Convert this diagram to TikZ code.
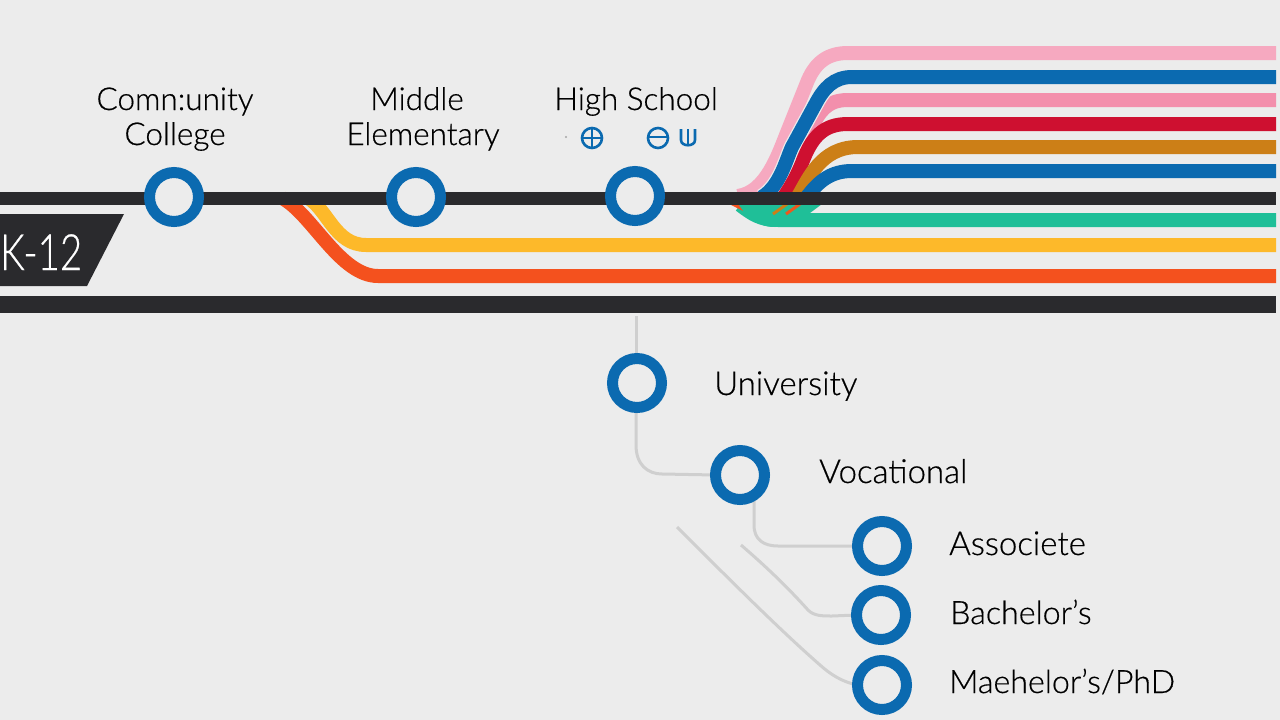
\documentclass[tikz,border=0pt]{standalone}
\usepackage{fontspec}
\setmainfont[FakeBold=0.5]{Lato Light}
\usetikzlibrary{backgrounds}
\definecolor{bgc}{HTML}{ECECEC}
\definecolor{ink}{HTML}{2A2A2D}
\definecolor{ringc}{HTML}{0B6AB0}
\definecolor{greyl}{HTML}{CFCFCF}
\definecolor{pinka}{HTML}{F6A9C0}
\definecolor{pinkb}{HTML}{F38FAC}
\definecolor{redl}{HTML}{CE1030}
\definecolor{ochre}{HTML}{CC7F17}
\definecolor{greenl}{HTML}{1FBF98}
\definecolor{yellowl}{HTML}{FDB92A}
\definecolor{orangel}{HTML}{F4511E}
\tikzset{
  stationring/.style={circle,draw=ringc,line width=11pt,fill=bgc,minimum size=49pt,inner sep=0pt,outer sep=0pt},
  lbl/.style={text=black,font=\fontsize{31.5}{36}\selectfont,inner sep=0pt,anchor=base},
  lblleft/.style={text=black,font=\fontsize{33}{38}\selectfont,inner sep=0pt,anchor=base west},
  route/.style={line width=14pt,line cap=butt},
  trunk/.style={line width=13pt,draw=ink},
  thin/.style={line width=3pt,draw=greyl},
  glyph/.style={draw=ringc,line width=2.6pt}
}
\begin{document}
\begin{tikzpicture}[x=1pt,y=-1pt]
\useasboundingbox (0,0) rectangle (1280,720);
% stations
\node[stationring] (s1) at (174,197) {};
\node[stationring] (s2) at (416,197) {};
\node[stationring] (s3) at (635,196) {};
\node[stationring] (u) at (637,383) {};
\node[stationring] (v) at (740,475) {};
\node[stationring] (a) at (882,546) {};
\node[stationring] (b) at (881,615) {};
\node[stationring] (m) at (882,685) {};
% free ends
\coordinate (tl) at (0,198); \coordinate (tr) at (1276,198);
\coordinate (bl) at (0,304); \coordinate (br) at (1276,304);
\coordinate (e1) at (1276,53); \coordinate (e2) at (1276,77); \coordinate (e3) at (1276,100);
\coordinate (e4) at (1276,124); \coordinate (e5) at (1276,147); \coordinate (e6) at (1276,171);
\coordinate (e7) at (1276,220); \coordinate (e8) at (1276,245); \coordinate (e9) at (1276,276);
\begin{pgfonlayer}{background}
\fill[bgc] (0,0) rectangle (1280,720);
% grey branches
\coordinate (g0) at (636,316);
\coordinate (g1) at (677,527);
\coordinate (g2) at (741,545);
\draw[thin] (g0) -- (g0 |- u.north);
\draw[thin] (g0 |- u.south) -- (636,445) .. controls (636,465) and (648,474) .. (662,474) -- (v.west);
\draw[thin] (754,500) -- (754,525) .. controls (754,540) and (764,546) .. (778,546) -- (a.west);
\draw[thin] (g2) .. controls (770,570) and (790,590) .. (808,610) .. controls (814,616) and (822,616) .. (832,616) -- (b.west);
\draw[thin] (g1) .. controls (730,580) and (780,630) .. (820,665) .. controls (830,674) and (842,682) .. (m.west);
% upper fan
\draw[route,draw=pinka] (738,196) .. controls (766,192) and (778,155) .. (788,130) -- (808,80) .. controls (816,62) and (828,53) .. (848,53) -- (e1);
\draw[route,draw=pinkb] (806,140) .. controls (818,112) and (826,100) .. (848,100) -- (e3);
\draw[line width=16.5pt,draw=bgc] (762,197) .. controls (780,186) and (786,160) .. (792,147) -- (816,103) .. controls (824,88) and (834,77) .. (852,77);
\draw[route,draw=ringc] (762,197) .. controls (780,186) and (786,160) .. (792,147) -- (816,103) .. controls (824,88) and (834,77) .. (852,77) -- (e2);
\draw[route,draw=redl] (783,198) .. controls (792,185) and (797,175) .. (802,163) .. controls (812,136) and (824,124) .. (848,124) -- (e4);
\draw[route,draw=ochre] (797,198) .. controls (808,180) and (820,147) .. (858,147) -- (e5);
\draw[route,draw=ringc] (806,198) .. controls (818,182) and (830,171) .. (852,171) -- (e6);
% lower fan
\fill[greenl] (733,204) -- (822,204) -- (810,213) -- (790,213) -- (775,227) .. controls (755,227) and (748,215) .. (733,204) -- cycle;
\draw[route,draw=greenl] (740,205) .. controls (752,214) and (760,220) .. (778,220) -- (e7);
\fill[orangel] (729,204) -- (738,204) -- (743,211) -- cycle;
\draw[line width=3pt,draw=ochre] (787,204) -- (773,214);
\draw[line width=3pt,draw=orangel!85!ochre] (800,204) -- (786,214);
\draw[route,draw=yellowl] (308,198) .. controls (328,210) and (335,245) .. (366,245) -- (e8);
\draw[route,draw=orangel] (282,198) .. controls (312,214) and (340,276) .. (378,276) -- (e9);
% trunks
\draw[trunk] (tl) -- (tr);
\draw[trunk,line width=17pt] (bl) -- (br);
\end{pgfonlayer}
% K-12 tag
\fill[ink] (0,214) -- (124,214) -- (87,286) -- (0,286) -- cycle;
\node[anchor=base west,inner sep=0pt,text=white,font=\fontsize{50}{52}\selectfont] (k) at (0,270) {\scalebox{0.77}[1]{K-12}};
% labels
\node[lbl] (l1) at (175,110) {Comn:unity};
\node[lbl] (l2) at (175,145) {College};
\node[lbl] (l3) at (417,110) {Middle};
\node[lbl] (l4) at (423,145) {Elementary};
\node[lbl] (l5) at (636,110) {High School};
\node[lblleft] (l6) at (714,395) {University};
\node[lblleft] (l7) at (819,483) {Vocational};
\node[lblleft] (l8) at (949,555) {Associete};
\node[lblleft,font=\fontsize{32.2}{38}\selectfont] (l9) at (950,624) {Bachelor's};
\node[lblleft,font=\fontsize{32.2}{38}\selectfont] (l10) at (949,693) {Maehelor's/PhD};
% glyph marks
\fill[gray!70] (566,137) circle (1.2pt);
\draw[glyph] (592,138) circle (10pt);
\draw[glyph] (592,128) -- (592,148) (582,138) -- (602,138);
\draw[glyph] (658,138) circle (10pt);
\draw[glyph] (648,137) -- (668,137);
\draw[glyph] (681,129) -- (681,140) .. controls (681,147) and (695,147) .. (695,140) -- (695,129);
\draw[glyph] (688,129) -- (688,145);
\end{tikzpicture}
\end{document}
